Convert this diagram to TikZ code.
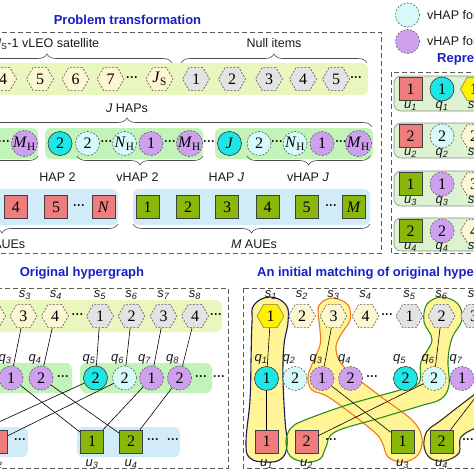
\documentclass[tikz,border=0pt]{standalone}
\usepackage{fontspec}
\setmainfont{Liberation Serif}
\setsansfont{Liberation Sans}
\usetikzlibrary{shapes.geometric,decorations.pathreplacing}
\definecolor{ttl}{RGB}{22,30,200}
\definecolor{bandY}{RGB}{233,246,190}
\definecolor{bandG}{RGB}{194,243,184}
\definecolor{bandB}{RGB}{210,235,248}
\definecolor{rowG}{RGB}{221,242,208}
\definecolor{hexY}{RGB}{252,246,210}
\definecolor{hexG}{RGB}{227,227,227}
\definecolor{yel}{RGB}{255,240,0}
\definecolor{cyn}{RGB}{30,230,230}
\definecolor{lcyn}{RGB}{214,250,250}
\definecolor{pur}{RGB}{206,160,238}
\definecolor{redsq}{RGB}{240,125,125}
\definecolor{grnsq}{RGB}{138,184,10}
\definecolor{blobF}{RGB}{255,245,150}
\definecolor{eNavy}{RGB}{25,25,90}
\definecolor{eOrange}{RGB}{240,120,25}
\definecolor{eGreen}{RGB}{40,140,30}
\definecolor{eDark}{RGB}{50,50,20}
\definecolor{dashc}{RGB}{90,90,90}
\tikzset{
  num/.style={font=\fontsize{16}{16}\selectfont},
  hexbase/.style={regular polygon, regular polygon sides=6, minimum size=27pt, inner sep=0pt, num, line width=0.6pt},
  hexy/.style={hexbase, draw=dashc, dash pattern=on 2pt off 1.5pt, fill=hexY},
  hexg/.style={hexbase, draw=dashc, dash pattern=on 2pt off 1.5pt, fill=hexG},
  hexs/.style={hexbase, draw=black!55!yellow, fill=yel},
  cbase/.style={circle, minimum size=24pt, inner sep=0pt, num, line width=0.6pt},
  cyc/.style={cbase, draw=black!80, fill=cyn},
  lcy/.style={cbase, draw=dashc, dash pattern=on 2pt off 1.5pt, fill=lcyn},
  puc/.style={cbase, draw=dashc, dash pattern=on 2pt off 1.5pt, fill=pur},
  sqbase/.style={rectangle, minimum size=23pt, inner sep=0pt, num, draw=black!75, line width=0.6pt},
  rsq/.style={sqbase, fill=redsq},
  gsq/.style={sqbase, fill=grnsq},
  dots/.style={inner sep=0pt, font=\bfseries\fontsize{12}{12}\selectfont},
  lbl/.style={font=\sffamily\fontsize{12.5}{14}\selectfont, inner sep=0pt, text=black!90},
  sub/.style={font=\sffamily\itshape\fontsize{13}{14}\selectfont, inner sep=0pt, text=black!90},
  ttlst/.style={font=\sffamily\bfseries\fontsize{13}{15}\selectfont, text=ttl, inner sep=0pt},
  dbox/.style={draw=dashc, line width=0.9pt, dash pattern=on 5pt off 3pt},
  brc/.style={draw=black!70, line width=0.6pt, decorate, decoration={brace, amplitude=9pt}},
  conn/.style={draw=black, line width=0.6pt},
  bandst/.style={rounded corners=6pt},
  rowst/.style={fill=rowG, draw=black!45, line width=0.6pt, rounded corners=7pt},
  blob/.style={fill=blobF, line width=1.1pt},
}
\begin{document}
\begin{tikzpicture}[x=1pt,y=-1pt]
\useasboundingbox (0,0) rectangle (474,474);

% ================= Problem transformation =================
\node[ttlst] (tProb) at (127.5,20) {Problem transformation};
\draw[dbox] (-10,32) rectangle (381.5,253);
\node[lbl] (tVleo) at (47,44) {\textit{J}\textsubscript{S}-1 vLEO satellite};
\draw[brc] (-78,63) -- (172,63);
\node[lbl] (tNull) at (274,43) {Null items};
\draw[brc] (181,63) -- (367,63);
\fill[bandY, bandst] (-20,63) rectangle (368,95);
\node[hexy] (v4) at (3,79) {4};
\node[hexy] (v5) at (40,79) {5};
\node[hexy] (v6) at (75.5,79) {6};
\node[hexy] (v7) at (110.5,79) {7};
\node[dots] (vd) at (132,79) {···};
\node[hexy] (vJ) at (159.5,79) {\textit{J}\textsubscript{S}};
\node[hexg] (n1) at (196,79) {1};
\node[hexg] (n2) at (232,79) {2};
\node[hexg] (n3) at (269,79) {3};
\node[hexg] (n4) at (303,79) {4};
\node[hexg] (n5) at (336,79) {5};
\node[dots] (nd) at (356,79) {···};

% HAP row
\node[lbl] (tJH) at (127,108) {\textit{J} HAPs};
\draw[brc] (-118,127) -- (372,127);
\fill[bandG, bandst] (-60,128) rectangle (38,159);
\fill[bandG, bandst] (45,128) rectangle (203,159);
\fill[bandG, bandst] (215,128) rectangle (373,159);
\node[dots] (hd1) at (4,143.5) {···};
\node[puc] (h1M) at (24.5,143.5) {\textit{M}\textsubscript{H}};
\node[cyc] (h2) at (60,143.5) {2};
\node[lcy] (h2a) at (87.5,143.5) {2};
\node[dots] (hd2) at (106.5,143.5) {···};
\node[lcy] (h2N) at (124.5,143.5) {\textit{N}\textsubscript{H}};
\node[puc] (h2b) at (151,143.5) {1};
\node[dots] (hd3) at (170,143.5) {···};
\node[puc] (h2M) at (189.5,143.5) {\textit{M}\textsubscript{H}};
\node[dots] (hd4) at (209,143.5) {···};
\node[cyc] (hJ) at (229.5,143.5) {\textit{J}};
\node[lcy] (hJa) at (259,143.5) {2};
\node[dots] (hd5) at (277,143.5) {···};
\node[lcy] (hJN) at (295,143.5) {\textit{N}\textsubscript{H}};
\node[puc] (hJb) at (322,143.5) {1};
\node[dots] (hd6) at (341,143.5) {···};
\node[puc] (hJM) at (358.5,143.5) {\textit{M}\textsubscript{H}};
\draw[brc] (38,156) -- (-88,156);
\draw[brc] (203,156) -- (77,156);
\draw[brc] (370,156) -- (247,156);
\node[lbl] (tH2) at (57.5,177) {HAP 2};
\node[lbl] (tvH2) at (137.5,177) {vHAP 2};
\node[lbl] (tHJ) at (226.5,177) {HAP \textit{J}};
\node[lbl] (tvHJ) at (308,177) {vHAP \textit{J}};

% AUE row
\fill[bandB, bandst] (-60,189) rectangle (118,225);
\fill[bandB, bandst] (133,189) rectangle (370,225);
\node[rsq] (r4) at (16,207) {4};
\node[rsq] (r5) at (56,207) {5};
\node[dots] (rd) at (79,207) {···};
\node[rsq] (rN) at (103.5,207) {\textit{N}};
\node[gsq] (g1) at (147.5,207) {1};
\node[gsq] (g2) at (188,207) {2};
\node[gsq] (g3) at (227,207) {3};
\node[gsq] (g4) at (267.5,207) {4};
\node[gsq] (g5) at (306.5,207) {5};
\node[dots] (gd) at (331,207) {···};
\node[gsq] (gM) at (354,207) {\textit{M}};
\draw[brc] (118,224) -- (-114,224);
\draw[brc] (370,224) -- (133,224);
\node[lbl] (tNA) at (3,244) {\textit{N} AUEs};
\node[lbl] (tMA) at (254,244) {\textit{M} AUEs};

% ================= Legend / Representation =================
\node[lcy] (lgA) at (407.5,15) {};
\node[lbl, anchor=west] (lgAt) at (427,15) {vHAP for TUEs};
\node[puc] (lgB) at (407.5,41.5) {};
\node[lbl, anchor=west] (lgBt) at (427,41.5) {vHAP for AUEs};
\node[ttlst, anchor=west] (tRep) at (437,59) {Representation};
\draw[dbox] (391,72) rectangle (490,253);
\draw[rowst] (394,76) rectangle (500,111);
\draw[rowst] (394,123) rectangle (500,158);
\draw[rowst] (394,171) rectangle (500,206);
\draw[rowst] (394,218) rectangle (500,251);
\node[rsq] (Lu1) at (410.5,89) {1};
\node[cyc] (Lq1) at (442,89) {1};
\node[hexs] (Ls1) at (474,89) {1};
\node[sub] (Lu1l) at (410.5,106) {u\textsubscript{1}};
\node[sub] (Lq1l) at (442,106) {q\textsubscript{1}};
\node[sub] (Ls1l) at (474,106) {s\textsubscript{1}};
\node[rsq] (Lu2) at (410.5,136) {2};
\node[lcy] (Lq2) at (442,136) {2};
\node[hexy] (Ls2) at (474,136) {2};
\node[sub] (Lu2l) at (410.5,153) {u\textsubscript{2}};
\node[sub] (Lq2l) at (442,153) {q\textsubscript{2}};
\node[sub] (Ls2l) at (474,153) {s\textsubscript{2}};
\node[gsq] (Lu3) at (410.5,184) {1};
\node[puc] (Lq3) at (442,184) {1};
\node[hexy] (Ls3) at (474,184) {3};
\node[sub] (Lu3l) at (410.5,201) {u\textsubscript{3}};
\node[sub] (Lq3l) at (442,201) {q\textsubscript{3}};
\node[sub] (Ls3l) at (474,201) {s\textsubscript{3}};
\node[gsq] (Lu4) at (410.5,231) {2};
\node[puc] (Lq4) at (442,231) {2};
\node[hexy] (Ls4) at (474,231) {4};
\node[sub] (Lu4l) at (410.5,247) {u\textsubscript{4}};
\node[sub] (Lq4l) at (442,247) {q\textsubscript{4}};
\node[sub] (Ls4l) at (474,247) {s\textsubscript{4}};

% ================= Original hypergraph =================
\node[ttlst] (tOrig) at (82,273) {Original hypergraph};
\draw[dbox] (-10,288) rectangle (228,468);
\fill[bandY, bandst] (-20,300) rectangle (222,332);
\fill[bandG, bandst] (-60,363) rectangle (72,393);
\fill[bandG, bandst] (80,363) rectangle (212,393);
\fill[bandB, bandst] (-60,427) rectangle (28,457);
\fill[bandB, bandst] (77,427) rectangle (180,457);
\node[hexy] (os2) at (-8,316) {2};
\node[hexy] (os3) at (23.5,316) {3};
\node[hexy] (os4) at (55,316) {4};
\node[dots] (osd1) at (77.5,316) {···};
\node[hexg] (os5) at (100,316) {1};
\node[hexg] (os6) at (131.5,316) {2};
\node[hexg] (os7) at (163.5,316) {3};
\node[hexg] (os8) at (195,316) {4};
\node[dots] (osd2) at (216,316) {···};
\node[sub] (ols3) at (25,295) {s\textsubscript{3}};
\node[sub] (ols4) at (56,295) {s\textsubscript{4}};
\node[sub] (ols5) at (100,295) {s\textsubscript{5}};
\node[sub] (ols6) at (131.5,295) {s\textsubscript{6}};
\node[sub] (ols7) at (163.5,295) {s\textsubscript{7}};
\node[sub] (ols8) at (195,295) {s\textsubscript{8}};
\node[puc] (oq3) at (11,378) {1};
\node[puc] (oq4) at (41,378) {2};
\node[dots] (oqd1) at (63,378) {···};
\node[cyc] (oq5) at (95.5,378) {2};
\node[lcy] (oq6) at (124.5,378) {2};
\node[puc] (oq7) at (151.5,378) {1};
\node[puc] (oq8) at (179.5,378) {2};
\node[dots] (oqd2) at (201,378) {···};
\node[dots] (oqd3) at (219,378) {···};
\node[sub] (olq3) at (5,359) {q\textsubscript{3}};
\node[sub] (olq4) at (35,359) {q\textsubscript{4}};
\node[sub] (olq5) at (89,359) {q\textsubscript{5}};
\node[sub] (olq6) at (117.5,359) {q\textsubscript{6}};
\node[sub] (olq7) at (144.5,359) {q\textsubscript{7}};
\node[sub] (olq8) at (172.5,359) {q\textsubscript{8}};
\node[rsq] (ou1) at (-44,441.5) {1};
\node[rsq] (ou2) at (-4,441.5) {2};
\node[dots] (oud1) at (20,441.5) {···};
\node[gsq] (ou3) at (92,441.5) {1};
\node[gsq] (ou4) at (131,441.5) {2};
\node[dots] (oud2) at (153,441.5) {···};
\node[dots] (oud3) at (173,441.5) {···};
\node[sub] (olu2) at (-4,464) {u\textsubscript{2}};
\node[sub] (olu3) at (92,464) {u\textsubscript{3}};
\node[sub] (olu4) at (131,464) {u\textsubscript{4}};
\draw[conn] (os3) -- (oq3);
\draw[conn] (os4) -- (oq4);
\draw[conn] (os5) -- (oq5);
\draw[conn] (os6) -- (oq6);
\draw[conn] (os7) -- (oq7);
\draw[conn] (os8) -- (oq8);
\draw[conn] (oq5) -- (ou1);
\draw[conn] (oq6) -- (ou2);
\draw[conn] (oq3) -- (ou3);
\draw[conn] (oq7) -- (ou3);
\draw[conn] (oq4) -- (ou4);
\draw[conn] (oq8) -- (ou4);

% ================= Initial matching =================
\node[ttlst, anchor=west] (tMatch) at (257,273) {An initial matching of original hypergraph};
\draw[dbox] (243,288) rectangle (490,468);
% hyperedge blobs (fills)
\fill[blobF] plot[smooth cycle, tension=0.7] coordinates {(270,297) (286,305) (288,322) (284,345) (283,378) (285,420) (287,445) (281,459) (266,462) (250,458) (246,442) (250,400) (251,360) (252,322) (254,305)};
\fill[blobF] plot[smooth cycle, tension=0.6] coordinates {(334,298) (348,305) (350,320) (340,336) (336,350) (345,368) (380,396) (412,420) (422,438) (418,455) (403,462) (388,457) (382,442) (372,430) (330,398) (312,390) (308,377) (313,362) (320,345) (320,330) (318,310) (322,302)};
\fill[blobF] plot[smooth cycle, tension=0.6] coordinates {(442,297) (458,304) (462,320) (452,338) (448,360) (449,385) (441,399) (420,406) (380,418) (335,432) (326,447) (320,459) (305,462) (290,456) (286,441) (291,428) (305,420) (350,404) (400,390) (419,383) (421,362) (432,340) (424,322) (427,304)};
\fill[blobF] plot[smooth cycle, tension=0.6] coordinates {(424,446) (427,431) (440,421) (478,392) (510,372) (530,390) (490,420) (462,436) (459,453) (444,461) (430,458)};
% hyperedge outlines
\draw[eNavy, line width=1.1pt] plot[smooth cycle, tension=0.7] coordinates {(270,297) (286,305) (288,322) (284,345) (283,378) (285,420) (287,445) (281,459) (266,462) (250,458) (246,442) (250,400) (251,360) (252,322) (254,305)};
\draw[eOrange, line width=1.1pt] plot[smooth cycle, tension=0.6] coordinates {(334,298) (348,305) (350,320) (340,336) (336,350) (345,368) (380,396) (412,420) (422,438) (418,455) (403,462) (388,457) (382,442) (372,430) (330,398) (312,390) (308,377) (313,362) (320,345) (320,330) (318,310) (322,302)};
\draw[eGreen, line width=1.1pt] plot[smooth cycle, tension=0.6] coordinates {(442,297) (458,304) (462,320) (452,338) (448,360) (449,385) (441,399) (420,406) (380,418) (335,432) (326,447) (320,459) (305,462) (290,456) (286,441) (291,428) (305,420) (350,404) (400,390) (419,383) (421,362) (432,340) (424,322) (427,304)};
\draw[eDark, line width=1.1pt] plot[smooth cycle, tension=0.6] coordinates {(424,446) (427,431) (440,421) (478,392) (510,372) (530,390) (490,420) (462,436) (459,453) (444,461) (430,458)};
% nodes
\node[hexs] (ms1) at (270.5,316) {1};
\node[hexy] (ms2) at (302,316) {2};
\node[hexy] (ms3) at (333.5,316) {3};
\node[hexy] (ms4) at (365.5,316) {4};
\node[dots] (msd) at (387,316) {···};
\node[hexg] (ms5) at (409.5,316) {1};
\node[hexg] (ms6) at (441.5,316) {2};
\node[hexg] (ms7) at (474,316) {3};
\node[sub] (mls1) at (271,295) {s\textsubscript{1}};
\node[sub] (mls2) at (302,295) {s\textsubscript{2}};
\node[sub] (mls3) at (333.5,295) {s\textsubscript{3}};
\node[sub] (mls4) at (365.5,295) {s\textsubscript{4}};
\node[sub] (mls5) at (409.5,295) {s\textsubscript{5}};
\node[sub] (mls6) at (441.5,295) {s\textsubscript{6}};
\node[sub] (mls7) at (474,295) {s\textsubscript{7}};
\node[cyc] (mq1) at (266.5,378.5) {1};
\node[lcy] (mq2) at (295,378.5) {2};
\node[puc] (mq3) at (322,378.5) {1};
\node[puc] (mq4) at (350.5,378.5) {2};
\node[dots] (mqd) at (372,378.5) {···};
\node[cyc] (mq5) at (405.5,378.5) {2};
\node[lcy] (mq6) at (434,378.5) {2};
\node[puc] (mq7) at (462,378.5) {1};
\node[puc] (mq8) at (490,378.5) {2};
\node[sub] (mlq1) at (261,359) {q\textsubscript{1}};
\node[sub] (mlq2) at (289,359) {q\textsubscript{2}};
\node[sub] (mlq3) at (316,359) {q\textsubscript{3}};
\node[sub] (mlq4) at (344.5,359) {q\textsubscript{4}};
\node[sub] (mlq5) at (399.5,359) {q\textsubscript{5}};
\node[sub] (mlq6) at (428,359) {q\textsubscript{6}};
\node[sub] (mlq7) at (456,359) {q\textsubscript{7}};
\node[rsq] (mu1) at (266.5,441.5) {1};
\node[rsq] (mu2) at (306.5,441.5) {2};
\node[dots] (mud1) at (331,441.5) {···};
\node[gsq] (mu3) at (402.5,441.5) {1};
\node[gsq] (mu4) at (441.5,441.5) {2};
\node[dots] (mud2) at (468,441.5) {···};
\node[sub] (mlu1) at (266.5,464) {u\textsubscript{1}};
\node[sub] (mlu2) at (306.5,464) {u\textsubscript{2}};
\node[sub] (mlu3) at (402.5,464) {u\textsubscript{3}};
\node[sub] (mlu4) at (441.5,464) {u\textsubscript{4}};
\draw[conn] (ms1) -- (mq1);
\draw[conn] (mq1) -- (mu1);
\draw[conn] (ms3) -- (mq3);
\draw[conn] (mq3) -- (mu3);
\draw[conn] (ms6) -- (mq6);
\draw[conn] (mq6) -- (mu2);
\draw[conn] (mu4) -- (mq8);
\end{tikzpicture}
\end{document}
